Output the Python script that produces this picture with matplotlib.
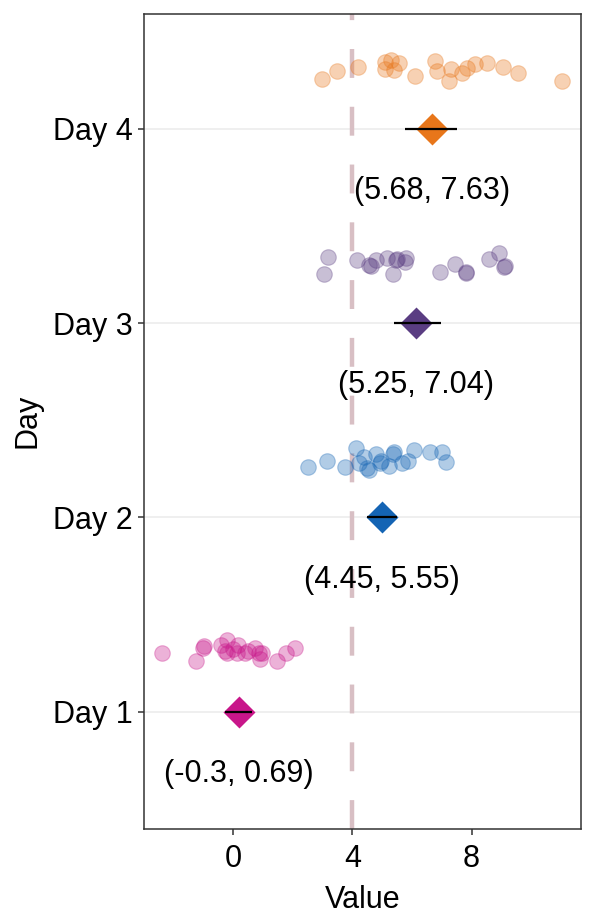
import matplotlib
matplotlib.use("Agg")
import matplotlib.pyplot as plt
import numpy as np

plt.rcParams['font.family'] = ['Liberation Sans', 'DejaVu Sans']

# data -----------------------------------------------------------------------
days = ["Day 1", "Day 2", "Day 3", "Day 4"]
colors = ["#C8168A", "#1464B4", "#5A3D82", "#E8761A"]

day1_x = [-2.39, -1.24, -0.98, -1.0, -0.40, -0.20, -0.27, -0.20, 0.13, 0.17,
          0.40, 0.50, 0.74, 0.87, 0.90, 0.98, 1.48, 1.78, 2.08, 0.0]
day1_y = [1.30, 1.26, 1.34, 1.33, 1.345, 1.37, 1.31, 1.30, 1.30, 1.345,
          1.30, 1.31, 1.33, 1.30, 1.27, 1.30, 1.26, 1.30, 1.33, 1.32]
day2_x = [2.51, 3.15, 3.77, 4.12, 4.21, 4.40, 4.51, 4.55, 4.81, 4.92,
          4.96, 5.22, 5.39, 5.37, 5.67, 5.86, 6.06, 6.60, 7.02, 7.13]
day2_y = [2.26, 2.29, 2.26, 2.355, 2.28, 2.31, 2.255, 2.245, 2.325, 2.28,
          2.29, 2.265, 2.335, 2.325, 2.28, 2.29, 2.345, 2.335, 2.335, 2.285]
day3_x = [3.18, 3.06, 4.16, 4.55, 4.63, 4.81, 5.17, 5.37, 5.45, 5.50,
          5.78, 5.81, 6.93, 7.46, 7.80, 7.83, 8.58, 8.92, 9.09, 9.11]
day3_y = [3.34, 3.25, 3.325, 3.30, 3.295, 3.325, 3.335, 3.25, 3.325, 3.33,
          3.315, 3.335, 3.265, 3.305, 3.265, 3.26, 3.33, 3.36, 3.29, 3.295]
day4_x = [2.98, 3.49, 4.19, 5.09, 5.11, 5.30, 5.39, 5.56, 6.12, 6.76,
          6.85, 7.26, 7.32, 7.69, 7.86, 8.11, 8.53, 9.07, 9.57, 11.03]
day4_y = [4.255, 4.295, 4.32, 4.345, 4.305, 4.355, 4.30, 4.34, 4.27, 4.35,
          4.295, 4.245, 4.305, 4.285, 4.31, 4.335, 4.34, 4.32, 4.285, 4.245]

means = [0.20, 5.00, 6.15, 6.67]
err_lo = [-0.27, 4.49, 5.39, 5.78]
err_hi = [0.65, 5.50, 6.96, 7.52]
ci_labels = ["(-0.3, 0.69)", "(4.45, 5.55)", "(5.25, 7.04)", "(5.68, 7.63)"]
ref_value = 4

xs = [day1_x, day2_x, day3_x, day4_x]
ys = [day1_y, day2_y, day3_y, day4_y]
pos = np.arange(1, len(days) + 1)

# plot -----------------------------------------------------------------------
fig = plt.figure(figsize=(5.95, 9.21), dpi=100)
ax = fig.add_axes([143.5 / 595, 1 - 829 / 921, (581 - 143.5) / 595, (829 - 13.5) / 921])

for p in pos:
    ax.axhline(p, color="#EBEBEB", lw=1.1, zorder=0)

ax.axvline(ref_value, color="#D8BFC4", lw=3.2, dashes=(6.5, 6.5), zorder=1)

for i in range(len(days)):
    ax.scatter(xs[i], ys[i], s=125, color=colors[i], alpha=0.33,
               edgecolors=colors[i], linewidths=0.8, zorder=2)
    ax.plot(means[i], pos[i], marker="D", ms=16, color=colors[i], mec="none",
            ls="none", zorder=3)
    ax.plot([err_lo[i], err_hi[i]], [pos[i], pos[i]], color="black", lw=1.6,
            solid_capstyle="butt", zorder=4)
    ax.text(means[i], pos[i] - 0.32, ci_labels[i], ha="center", va="center",
            fontsize=22)

ax.set_xlim(-3.0, 11.67)
ax.set_ylim(0.396, 4.593)
ax.set_xticks([0, 4, 8])
ax.set_yticks(pos)
ax.set_yticklabels(days)
ax.tick_params(labelsize=22, colors="#333333", labelcolor="black", length=4, width=1.1)
ax.tick_params(axis="x", pad=7)
for s in ax.spines.values():
    s.set_color("#333333")
    s.set_linewidth(1.1)
ax.set_xlabel("Value", fontsize=22, labelpad=8)
ax.set_ylabel("Day", fontsize=22, labelpad=8)

fig.savefig("out.png", dpi=100)
